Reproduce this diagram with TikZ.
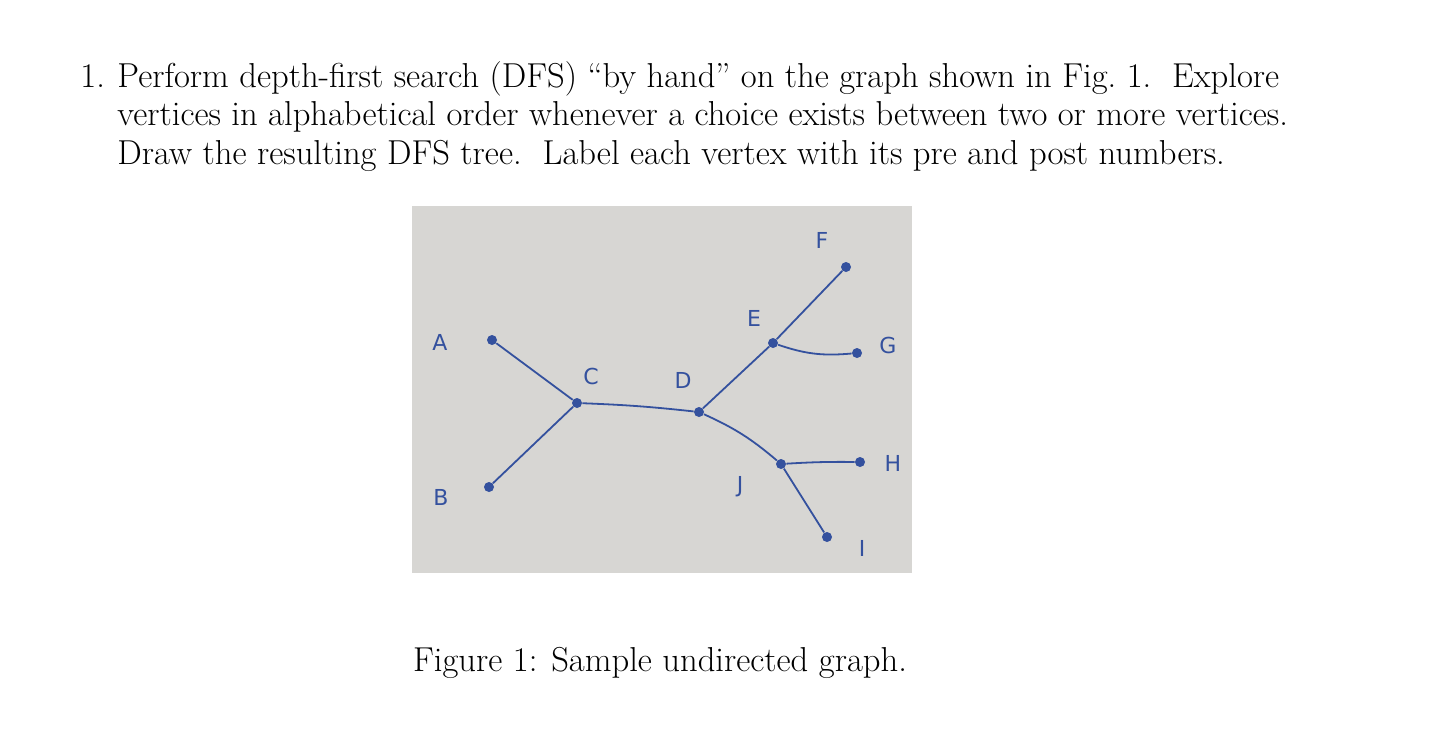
\documentclass[tikz,border=0pt]{standalone}
\usepackage{fontspec}
\newfontfamily\hand{DejaVu Sans}
\begin{document}
\begin{tikzpicture}[x=0.5pt,y=-0.5pt,
  txt/.style={anchor=base west,inner sep=0,font=\fontsize{17.3}{19}\selectfont},
  vtx/.style={circle,fill=inkblue,inner sep=0,minimum size=5pt},
  lab/.style={text=inkblue,font=\hand\fontsize{11}{12}\selectfont},
  edge/.style={draw=inkblue,line width=0.9pt}]
\definecolor{inkblue}{HTML}{34519E}
\definecolor{paper}{HTML}{D7D6D3}
\useasboundingbox[fill=white] (0,0) rectangle (1450,736);
\node[txt] (n) at (80,87) {1.};
\node[txt] (l1) at (117,87) {Perform depth-first search (DFS) ``by hand'' on the graph shown in Fig.~1.\ \ Explore};
\node[txt] (l2) at (117,125) {vertices in alphabetical order whenever a choice exists between two or more vertices.};
\node[txt] (l3) at (117,164) {Draw the resulting DFS tree.\ \ Label each vertex with its pre and post numbers.};
\fill[paper] (412,206) rectangle (912,573);
\node[vtx] (A) at (492,340) {};
\node[vtx] (B) at (489,487) {};
\node[vtx] (C) at (577,403) {};
\node[vtx] (D) at (699,412) {};
\node[vtx] (E) at (773,343) {};
\node[vtx] (F) at (846,267) {};
\node[vtx] (G) at (857,353) {};
\node[vtx] (H) at (860,462) {};
\node[vtx] (J) at (781,464) {};
\node[vtx] (I) at (827,537) {};
\draw[edge] (A) -- (C) (B) -- (C) (E) -- (F) (J) -- (I);
\draw[edge] (C) to[bend left=2] (D);
\draw[edge] (D) -- (E);
\draw[edge] (D) to[bend left=8] (J);
\draw[edge] (E) to[bend right=12] (G);
\draw[edge] (J) to[bend left=2] (H);
\node[lab] (la) at (440,342) {A};
\node[lab] (lb) at (441,497) {B};
\node[lab] (lc) at (591,376) {C};
\node[lab] (ld) at (683,380) {D};
\node[lab] (le) at (754,318) {E};
\node[lab] (lf) at (822,240) {F};
\node[lab] (lg) at (888,345) {G};
\node[lab] (lh) at (893,463) {H};
\node[lab] (lj) at (740,487) {J};
\node[lab] (li) at (862,548) {I};
\node[txt,anchor=base] (cap) at (660,671) {Figure 1: Sample undirected graph.};
\end{tikzpicture}
\end{document}
